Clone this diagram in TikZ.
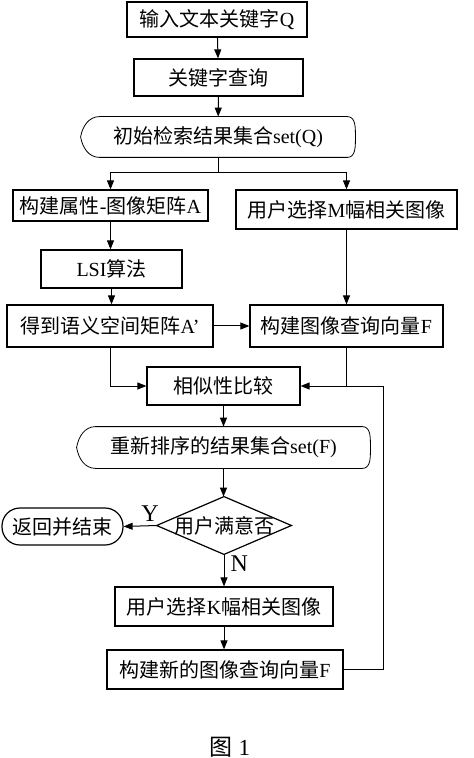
\documentclass[tikz,border=0pt]{standalone}
\usepackage{fontspec}
\setmainfont{Liberation Serif}
\newfontfamily\cjk{Noto Sans CJK SC}
\usetikzlibrary{arrows.meta}
\newcommand\zh[1]{{\cjk #1}}
\newcommand\dispframe[1]{\draw ([xshift=9.5pt]#1.north west) to[out=180,in=80] (#1.west) to[out=-80,in=180] ([xshift=9.5pt]#1.south west) -- ([xshift=-4pt]#1.south east) to[out=0,in=-90] (#1.east) to[out=90,in=0] ([xshift=-4pt]#1.north east) -- cycle;}
\tikzset{
	box/.style={draw, line width=0.6pt, inner sep=0pt},
	arr/.style={line width=0.5pt, -{Triangle[length=4.5pt,width=3.5pt]}},
	ln/.style={line width=0.5pt},
	lbl/.style={font=\fontsize{12}{14}\selectfont, inner sep=1pt}
}

\begin{document}
\begin{tikzpicture}[x=0.5pt, y=-0.5pt]
			%%%%% START %%%%%
			\useasboundingbox (0, 0) rectangle (474, 758);
			
			\node[box, minimum width=90pt, minimum height=17.5pt] (b1) at (217, 19.5) {\zh{输入文本关键字}Q};
			\node[box, minimum width=84.5pt, minimum height=18.5pt] (b2) at (218.5, 77.5) {\zh{关键字查询}};
			\node[inner sep=0pt, minimum width=137pt, minimum height=20pt] (s3) at (218, 137) {\zh{初始检索结果集合}set(Q)};
			\dispframe{s3}
			
			\node[box, minimum width=97.5pt, minimum height=15.5pt] (b4) at (110.5, 205.5) {\zh{构建属性}-\zh{图像矩阵}A};
			\node[box, minimum width=110.5pt, minimum height=19.5pt] (b5) at (346.5, 209.5) {\zh{用户选择}M\zh{幅相关图像}};
			\node[box, minimum width=70.5pt, minimum height=19pt] (b6) at (111.5, 269) {LSI\zh{算法}};
			\node[box, minimum width=103pt, minimum height=21pt] (b7) at (110, 326) {\zh{得到语义空间矩阵}A’};
			\node[box, minimum width=96.5pt, minimum height=21pt] (b8) at (346.5, 326) {\zh{构建图像查询向量}F};
			
			\node[box, minimum width=76.5pt, minimum height=19pt] (b9) at (223.5, 386) {\zh{相似性比较}};
			\node[inner sep=0pt, minimum width=146.5pt, minimum height=20.5pt] (s10) at (223.5, 447.5) {\zh{重新排序的结果集合}set(F)};
			\dispframe{s10}
			
			\node[inner sep=0pt, minimum width=67pt, minimum height=28.5pt] (d) at (224, 525.5) {\zh{用户满意否}};
			\draw[line width=0.6pt] (d.north) -- (d.east) -- (d.south) -- (d.west) -- cycle;
			\node[box, rounded corners=9pt, minimum width=60.5pt, minimum height=18.5pt] (e) at (62.5, 526.5) {\zh{返回并结束}};
			
			\node[box, minimum width=109pt, minimum height=19.5pt] (b11) at (224, 606.5) {\zh{用户选择}K\zh{幅相关图像}};
			\node[box, minimum width=118pt, minimum height=19.5pt] (b12) at (225, 669.5) {\zh{构建新的图像查询向量}F};
			
			\node[font=\fontsize{11.5}{13}\selectfont] (cap) at (230, 747) {\zh{图} 1};
			
			\coordinate (split) at (218, 173);
			\coordinate (back) at (383, 386);
			
			\draw[arr] (b1) -- (b2);
			\draw[arr] (b2) -- (s3);
			\draw[ln] (s3.south) -- (split);
			\draw[arr] (split) -| (b4.north);
			\draw[arr] (split) -| (b5.north);
			\draw[arr] (b4.south) -- (b4.south |- b6.north);
			\draw[arr] (b6.south) -- (b6.south |- b7.north);
			\draw[arr] (b5.south) -- (b8.north);
			\draw[arr] (b7) -- (b8);
			\draw[arr] (b7.south) |- (b9.west);
			\draw[ln] (b8.south) -- (b8.south |- b9.east);
			\draw[arr] (b12.east) -| (back) -- (b9.east);
			\draw[arr] (b9.south) -- (b9.south |- s10.north);
			\draw[arr] (s10.south) -- (s10.south |- d.north);
			\draw[arr] (d.west) -- node[lbl, above, pos=0.2, yshift=1pt] (y) {Y} (e.east);
			\draw[arr] (d.south) -- node[lbl, right, pos=0.3, xshift=2pt] (n) {N} (d.south |- b11.north);
			\draw[arr] (b11.south) -- (b11.south |- b12.north);
			
			%%%%% END %%%%%
		\end{tikzpicture}
\end{document}
